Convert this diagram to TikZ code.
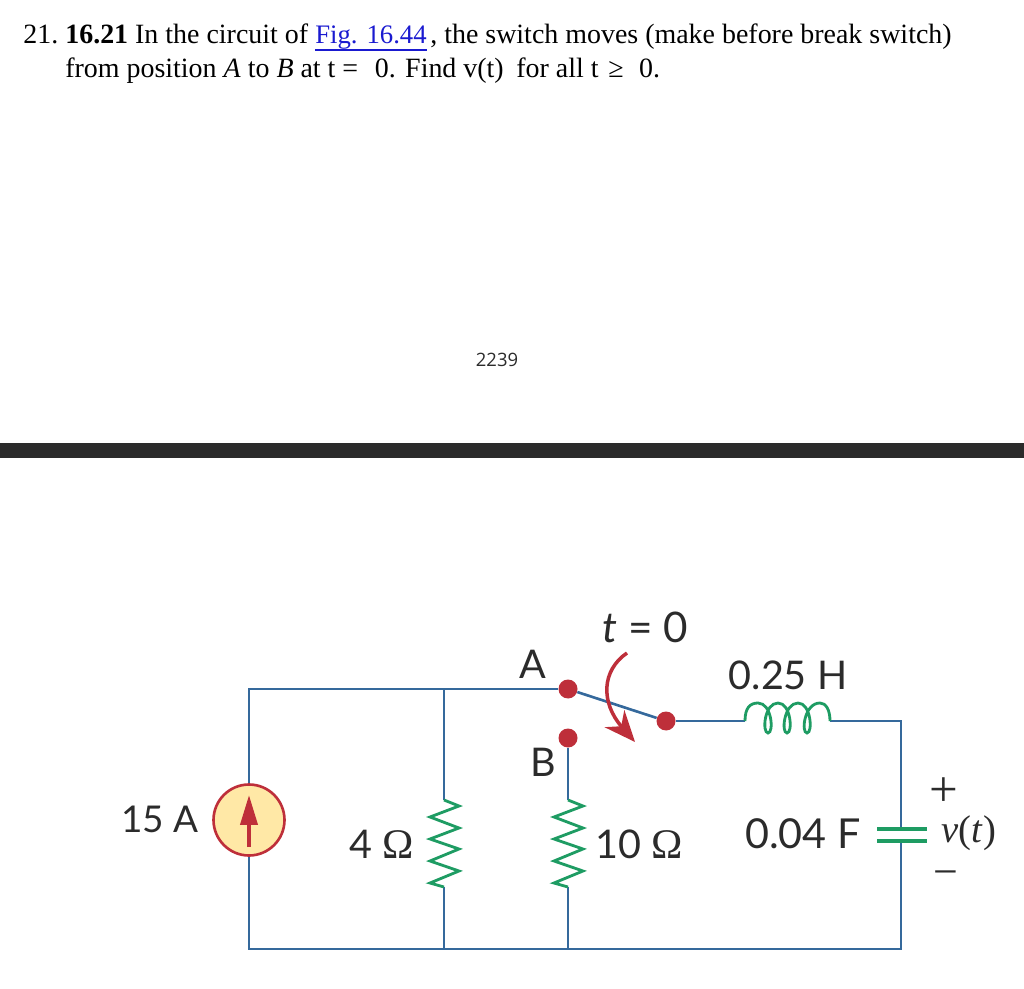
\documentclass[tikz,border=0pt]{standalone}
\usepackage{fontspec}
\setmainfont{Liberation Serif}
\newfontfamily\labelfont{Lato}
\newfontfamily\pagefont{Open Sans}
\usetikzlibrary{arrows.meta}
\definecolor{wireblue}{HTML}{35699C}
\definecolor{elemgreen}{HTML}{1E9C63}
\definecolor{dotred}{HTML}{BE2F3A}
\definecolor{srcyellow}{HTML}{FFE8A6}
\definecolor{inkgray}{HTML}{2B2B2B}
\definecolor{linkblue}{HTML}{1A1AD0}
\newcommand{\ohm}{{\rmfamily\fontsize{24}{24}\selectfont\char"03A9}}
\tikzset{
  wire/.style={draw=wireblue,line width=1.5pt},
  elem/.style={draw=elemgreen,line width=1.6pt},
  termdot/.style={circle,fill=dotred,inner sep=0pt,minimum size=0.38cm},
  headtext/.style={anchor=base west,inner sep=0pt,font=\fontsize{15.9}{18}\selectfont},
  lbl/.style={inner sep=0pt,text=inkgray,font=\labelfont\fontsize{22.5}{26}\selectfont},
}
\begin{document}
\begin{tikzpicture}[x=0.02cm,y=-0.02cm]
        \useasboundingbox (0,0) rectangle (1024,989);
        % question text
        \node[headtext] (head1) at (23,44) {21.};
        \node[headtext] (head2) at (65,44) {\textbf{16.21} In the circuit of};
        \node[headtext,text=linkblue,font=\fontsize{15.2}{18}\selectfont] (figlink) at (315,44) {Fig. 16.44};
        \node[headtext] (head3) at (430,44) {, the switch moves (make before break switch)};
        \node[headtext] (head4) at (65,78) {from position \textit{A} to \textit{B} at t =\hspace{0.6em}0. Find v(t)\hspace{0.2em} for all t\hspace{0.1em} \char"2265\hspace{0.55em}0.};
        \draw[linkblue,line width=1.5pt] ([yshift=-3.5pt]figlink.base west) -- ([yshift=-3.5pt]figlink.base east);
        \node[inner sep=0pt,text=inkgray,font=\pagefont\fontsize{10.5}{12}\selectfont] (pageno) at (497,360) {2239};
        \fill[inkgray] (0,443) rectangle (1024,458);
        % circuit
        \node[circle,draw=dotred,fill=srcyellow,line width=1.5pt,inner sep=0pt,minimum size=1.42cm] (src) at (249,820) {};
        \node[termdot] (A) at (568,689) {};
        \node[termdot] (B) at (568,738) {};
        \node[termdot] (S) at (666,721) {};
        \coordinate (topmid) at (444,689);
        \coordinate (r1top) at (444,800);
        \coordinate (r1bot) at (444,887);
        \coordinate (r2top) at (568,800);
        \coordinate (r2bot) at (568,887);
        \coordinate (botmid1) at (444,949);
        \coordinate (botmid2) at (568,949);
        \coordinate (indL) at (745,721);
        \coordinate (indR) at (830,721);
        \coordinate (capT) at (901,829);
        \coordinate (capB) at (901,841);
        \draw[wire] (src) |- (A);
        \draw[wire] (topmid) -- (r1top);
        \draw[wire] (r1bot) -- (botmid1);
        \draw[wire] (B) -- (r2top);
        \draw[wire] (r2bot) -- (botmid2);
        \draw[wire] (src) |- (botmid2);
        \draw[wire] (A) -- (S);
        \draw[wire] (S) -- (indL);
        \draw[wire] (indR) -| (capT);
        \draw[wire] (capB) |- (botmid2);
        % resistors
        \foreach \r in {r1top,r2top}
          \draw[elem] (\r) -- ++(15,6) -- ++(-29,11) -- ++(29,11) -- ++(-29,11) -- ++(29,10) -- ++(-29,12) -- ++(29,10) -- ++(-29,12) -- ++(14,4);
        % inductor
        \draw[elem] (indL) .. controls (745,708) and (750,703) .. (758,703)
          .. controls (772,703) and (774,733) .. (768,733) .. controls (762,733) and (764,703) .. (778,703)
          .. controls (791,703) and (793,733) .. (787,733) .. controls (781,733) and (784,703) .. (798,703)
          .. controls (811,703) and (813,733) .. (807,733) .. controls (801,733) and (804,703) .. (820,703)
          .. controls (826,703) and (830,710) .. (indR);
        % capacitor
        \draw[elem,line width=1.8pt] (877,829) -- (927,829);
        \draw[elem,line width=1.8pt] (877,841) -- (927,841);
        % source arrow
        \coordinate (arrTail) at (249,847);
        \coordinate (arrTip) at (249,795);
        \draw[dotred,line width=2.3pt,-{Triangle[length=0.6cm,width=0.34cm]}] (arrTail) -- (arrTip);
        % switch arrow
        \coordinate (swStart) at (627,653);
        \coordinate (swTip) at (635,742);
        \draw[dotred,line width=2pt,-{Stealth[length=0.62cm,width=0.52cm]}] (swStart) .. controls (602,670) and (600,702) .. (swTip);
        % labels
        \node[lbl,font=\labelfont\fontsize{24}{26}\selectfont] (tzero) at (645,627) {\textit{t} = 0};
        \node[lbl] (labA) at (533,664) {A};
        \node[lbl] (labB) at (543,762) {B};
        \node[lbl] (labL) at (788,675) {0.25 H};
        \node[lbl,font=\labelfont\fontsize{21}{26}\selectfont] (labI) at (160,819) {15 A};
        \node[lbl] (labRa) at (382,844) {4 \ohm};
        \node[lbl] (labRb) at (639,844) {10 \ohm};
        \node[lbl,font=\labelfont\fontsize{23.5}{26}\selectfont] (labC) at (803,834) {0.04 F};
        \node[lbl,font=\fontsize{29}{29}\selectfont] (labPlus) at (944,792) {+};
        \node[lbl,font=\fontsize{22}{24}\selectfont] (labV) at (969,833) {\textit{v}(\textit{t})};
        \node[lbl,font=\fontsize{25}{25}\selectfont] (labMinus) at (946,886) {\smash{\char"2212}};
      \end{tikzpicture}
\end{document}
